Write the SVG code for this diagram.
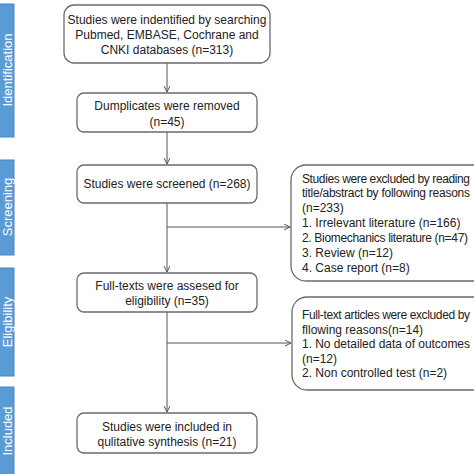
<svg xmlns="http://www.w3.org/2000/svg" width="474" height="474" viewBox="0 0 474 474">
<style>
.bar{fill:#5b9bd5;stroke:#4a86c0;stroke-width:1}
.bt{font-family:"Liberation Sans",Arial,sans-serif;font-size:13px;fill:#ffffff;text-anchor:middle}
.box{fill:#ffffff;stroke:#6b6b6b;stroke-width:1.3}
.t{font-family:"Liberation Sans",Arial,sans-serif;font-size:12px;fill:#222222}
.c{text-anchor:middle}
.ln{fill:none;stroke:#555555;stroke-width:1}
</style>
<defs>
<marker id="ah" markerWidth="8" markerHeight="8" refX="6" refY="3" orient="auto" markerUnits="userSpaceOnUse">
<path d="M0,0 L6,3 L0,6" fill="none" stroke="#555555" stroke-width="1"/>
</marker>
</defs>
<rect width="474" height="474" fill="#ffffff"/>
<g id="phase-identification"><rect class="bar" x="-20" y="4" width="34" height="133"/><text class="bt" transform="translate(11.5,70) rotate(-90)">Identification</text></g>
<g id="phase-screening"><rect class="bar" x="-20" y="160" width="34" height="95"/><text class="bt" transform="translate(11.5,207) rotate(-90)">Screening</text></g>
<g id="phase-eligibility"><rect class="bar" x="-20" y="268" width="34" height="108"/><text class="bt" transform="translate(11.5,322) rotate(-90)">Eligibility</text></g>
<g id="phase-included"><rect class="bar" x="-20" y="387" width="34" height="100"/><text class="bt" transform="translate(11.5,431) rotate(-90)">Included</text></g>
<g id="connectors">
<line class="ln" x1="167" y1="63" x2="167" y2="92" marker-end="url(#ah)"/>
<line class="ln" x1="167" y1="132" x2="167" y2="164" marker-end="url(#ah)"/>
<line class="ln" x1="167" y1="203" x2="167" y2="272" marker-end="url(#ah)"/>
<line class="ln" x1="167" y1="227" x2="290" y2="227" marker-end="url(#ah)"/>
<line class="ln" x1="167" y1="312" x2="167" y2="412" marker-end="url(#ah)"/>
<line class="ln" x1="167" y1="343" x2="291" y2="343" marker-end="url(#ah)"/>
</g>
<g id="n1"><rect class="box" x="64" y="5" width="206" height="58" rx="10"/>
<text class="t c" x="167" y="24">Studies were indentified by searching</text>
<text class="t c" x="167" y="39">Pubmed, EMBASE, Cochrane and</text>
<text class="t c" x="167" y="54">CNKI databases (n=313)</text></g>
<g id="n2"><rect class="box" x="77" y="93" width="180" height="39" rx="7"/>
<text class="t c" x="167" y="110">Dumplicates were removed</text>
<text class="t c" x="167" y="126">(n=45)</text></g>
<g id="n3"><rect class="box" x="77" y="165" width="180" height="38" rx="7"/>
<text class="t c" x="167" y="188">Studies were screened (n=268)</text></g>
<g id="n4"><rect class="box" x="291" y="165" width="200" height="116" rx="15"/>
<text class="t" x="302" y="183" textLength="168">Studies were excluded by reading</text>
<text class="t" x="302" y="197" textLength="168">title/abstract by following reasons</text>
<text class="t" x="302" y="212">(n=233)</text>
<text class="t" x="302" y="227">1. Irrelevant literature (n=166)</text>
<text class="t" x="302" y="242" textLength="166">2. Biomechanics literature (n=47)</text>
<text class="t" x="302" y="257">3. Review (n=12)</text>
<text class="t" x="302" y="272">4. Case report (n=8)</text></g>
<g id="n5"><rect class="box" x="77" y="273" width="180" height="39" rx="7"/>
<text class="t c" x="167" y="290">Full-texts were assesed for</text>
<text class="t c" x="167" y="305">eligibility (n=35)</text></g>
<g id="n6"><rect class="box" x="292" y="297" width="200" height="93" rx="15"/>
<text class="t" x="302" y="319" textLength="168">Full-text articles were excluded by</text>
<text class="t" x="302" y="334">fllowing reasons(n=14)</text>
<text class="t" x="302" y="348" textLength="168">1. No detailed data of outcomes</text>
<text class="t" x="302" y="363">(n=12)</text>
<text class="t" x="302" y="377">2. Non controlled test (n=2)</text></g>
<g id="n7"><rect class="box" x="77" y="413" width="180" height="40" rx="7"/>
<text class="t c" x="167" y="431">Studies were included in</text>
<text class="t c" x="167" y="446">qulitative synthesis  (n=21)</text></g>
</svg>
